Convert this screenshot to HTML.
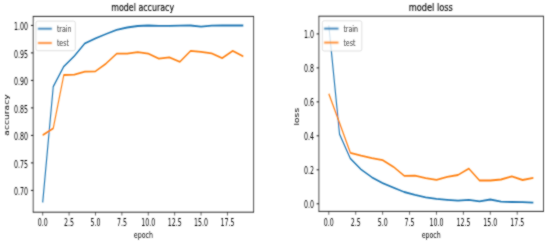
<!DOCTYPE html><html><head><meta charset="utf-8"><style>html,body{margin:0;padding:0;background:#fff;}svg{display:block;}text{font-family:"DejaVu Sans","Liberation Sans",sans-serif;fill:#000;}</style></head><body>
<svg width="550" height="244" viewBox="0 0 550 244">
<defs><filter id="b" x="0" y="0" width="550" height="244" filterUnits="userSpaceOnUse"><feConvolveMatrix order="3" kernelMatrix="1 2 1 2 12 2 1 2 1" divisor="24" edgeMode="duplicate"/></filter><filter id="s" x="0" y="0" width="550" height="244" filterUnits="userSpaceOnUse"><feConvolveMatrix order="3" kernelMatrix="1 2 1 2 12 2 1 2 1" divisor="24" edgeMode="duplicate"/></filter></defs>
<rect width="550" height="244" fill="#fff"/>
<g filter="url(#s)"><g transform="scale(0.63,1)">
<polyline points="67.78,202.50 84.53,86.60 101.29,66.40 118.05,56.00 134.81,43.30 151.56,38.40 168.32,34.00 185.08,29.90 201.83,27.50 218.59,26.00 235.35,25.50 252.11,25.80 268.86,25.80 285.62,25.70 302.38,25.50 319.13,26.60 335.89,25.70 352.65,25.50 369.41,25.50 386.16,25.50" fill="none" stroke="#1f77b4" stroke-width="1.8" stroke-linejoin="round" stroke-linecap="butt"/>
<polyline points="67.78,135.20 84.53,128.30 101.29,75.00 118.05,74.60 134.81,71.60 151.56,71.30 168.32,63.60 185.08,53.70 201.83,53.70 218.59,52.10 235.35,53.60 252.11,58.70 268.86,57.30 285.62,61.80 302.38,50.90 319.13,51.80 335.89,53.30 352.65,58.20 369.41,50.90 386.16,56.40" fill="none" stroke="#ff7f0e" stroke-width="1.8" stroke-linejoin="round" stroke-linecap="butt"/>
<polyline points="521.90,25.40 538.99,134.30 556.08,158.50 573.17,169.50 590.26,177.30 607.35,183.20 624.44,187.70 641.53,192.00 658.62,194.90 675.70,197.40 692.79,198.90 709.88,199.90 726.97,200.70 744.06,199.90 761.15,201.40 778.24,199.50 795.33,201.60 812.42,202.00 829.50,202.20 846.59,202.60" fill="none" stroke="#1f77b4" stroke-width="1.8" stroke-linejoin="round" stroke-linecap="butt"/>
<polyline points="521.90,93.70 538.99,123.00 556.08,152.80 573.17,155.70 590.26,158.10 607.35,160.10 624.44,166.80 641.53,175.80 658.62,175.70 675.70,178.10 692.79,179.80 709.88,176.80 726.97,175.00 744.06,168.60 761.15,180.50 778.24,180.50 795.33,179.50 812.42,176.40 829.50,180.00 846.59,177.80" fill="none" stroke="#ff7f0e" stroke-width="1.8" stroke-linejoin="round" stroke-linecap="butt"/>
</g></g>
<g filter="url(#b)">
<rect x="35.9" y="21.1" width="39.40" height="29.60" rx="1.8" fill="#fff" fill-opacity="0.8" stroke="#ccc" stroke-opacity="0.8" stroke-width="0.8"/>
<g filter="url(#s)">
<line x1="37.90" y1="28.70" x2="51.90" y2="28.70" stroke="#1f77b4" stroke-width="1.8"/>
<line x1="37.90" y1="43.00" x2="51.90" y2="43.00" stroke="#ff7f0e" stroke-width="1.8"/>
</g>
<text transform="translate(56.90,32.00) scale(0.66,1)" font-size="9.5" text-anchor="start">train</text>
<text transform="translate(56.90,46.00) scale(0.66,1)" font-size="9.5" text-anchor="start">test</text>
<line x1="32.80" y1="16.40" x2="254.00" y2="16.40" stroke="#000" stroke-width="0.85"/>
<line x1="32.80" y1="212.20" x2="254.00" y2="212.20" stroke="#000" stroke-width="0.85"/>
<line x1="33.20" y1="16.40" x2="33.20" y2="212.20" stroke="#000" stroke-width="0.7"/>
<line x1="253.60" y1="16.40" x2="253.60" y2="212.20" stroke="#000" stroke-width="0.7"/>
<line x1="42.70" y1="212.20" x2="42.70" y2="215.50" stroke="#000" stroke-width="0.6"/>
<text transform="translate(42.70,226.10) scale(0.635,1)" font-size="9.9" text-anchor="middle">0.0</text>
<line x1="69.09" y1="212.20" x2="69.09" y2="215.50" stroke="#000" stroke-width="0.6"/>
<text transform="translate(69.09,226.10) scale(0.635,1)" font-size="9.9" text-anchor="middle">2.5</text>
<line x1="95.49" y1="212.20" x2="95.49" y2="215.50" stroke="#000" stroke-width="0.6"/>
<text transform="translate(95.49,226.10) scale(0.635,1)" font-size="9.9" text-anchor="middle">5.0</text>
<line x1="121.88" y1="212.20" x2="121.88" y2="215.50" stroke="#000" stroke-width="0.6"/>
<text transform="translate(121.88,226.10) scale(0.635,1)" font-size="9.9" text-anchor="middle">7.5</text>
<line x1="148.27" y1="212.20" x2="148.27" y2="215.50" stroke="#000" stroke-width="0.6"/>
<text transform="translate(148.27,226.10) scale(0.635,1)" font-size="9.9" text-anchor="middle">10.0</text>
<line x1="174.66" y1="212.20" x2="174.66" y2="215.50" stroke="#000" stroke-width="0.6"/>
<text transform="translate(174.66,226.10) scale(0.635,1)" font-size="9.9" text-anchor="middle">12.5</text>
<line x1="201.06" y1="212.20" x2="201.06" y2="215.50" stroke="#000" stroke-width="0.6"/>
<text transform="translate(201.06,226.10) scale(0.635,1)" font-size="9.9" text-anchor="middle">15.0</text>
<line x1="227.45" y1="212.20" x2="227.45" y2="215.50" stroke="#000" stroke-width="0.6"/>
<text transform="translate(227.45,226.10) scale(0.635,1)" font-size="9.9" text-anchor="middle">17.5</text>
<line x1="30.90" y1="25.40" x2="33.20" y2="25.40" stroke="#000" stroke-width="0.9"/>
<text transform="translate(27.90,30.00) scale(0.635,1)" font-size="9.9" text-anchor="end">1.00</text>
<line x1="30.90" y1="52.90" x2="33.20" y2="52.90" stroke="#000" stroke-width="0.9"/>
<text transform="translate(27.90,57.50) scale(0.635,1)" font-size="9.9" text-anchor="end">0.95</text>
<line x1="30.90" y1="80.40" x2="33.20" y2="80.40" stroke="#000" stroke-width="0.9"/>
<text transform="translate(27.90,85.00) scale(0.635,1)" font-size="9.9" text-anchor="end">0.90</text>
<line x1="30.90" y1="107.90" x2="33.20" y2="107.90" stroke="#000" stroke-width="0.9"/>
<text transform="translate(27.90,112.50) scale(0.635,1)" font-size="9.9" text-anchor="end">0.85</text>
<line x1="30.90" y1="135.40" x2="33.20" y2="135.40" stroke="#000" stroke-width="0.9"/>
<text transform="translate(27.90,140.00) scale(0.635,1)" font-size="9.9" text-anchor="end">0.80</text>
<line x1="30.90" y1="162.90" x2="33.20" y2="162.90" stroke="#000" stroke-width="0.9"/>
<text transform="translate(27.90,167.50) scale(0.635,1)" font-size="9.9" text-anchor="end">0.75</text>
<line x1="30.90" y1="190.40" x2="33.20" y2="190.40" stroke="#000" stroke-width="0.9"/>
<text transform="translate(27.90,195.00) scale(0.635,1)" font-size="9.9" text-anchor="end">0.70</text>
<text transform="translate(142.70,11.40) scale(0.72,1)" font-size="11.0" text-anchor="middle" stroke="#000" stroke-width="0.15">model accuracy</text>
<text transform="translate(143.40,238.20) scale(0.66,1)" font-size="9.5" text-anchor="middle">epoch</text>
<text transform="translate(8.60,115.00) rotate(-90) scale(1,0.74)" font-size="9.2" text-anchor="middle">accuracy</text>
<rect x="322.3" y="20.8" width="39.50" height="30.20" rx="1.8" fill="#fff" fill-opacity="0.8" stroke="#ccc" stroke-opacity="0.8" stroke-width="0.8"/>
<g filter="url(#s)">
<line x1="324.10" y1="28.60" x2="338.50" y2="28.60" stroke="#1f77b4" stroke-width="1.8"/>
<line x1="324.10" y1="42.60" x2="338.50" y2="42.60" stroke="#ff7f0e" stroke-width="1.8"/>
</g>
<text transform="translate(343.40,32.00) scale(0.66,1)" font-size="9.5" text-anchor="start">train</text>
<text transform="translate(343.40,46.00) scale(0.66,1)" font-size="9.5" text-anchor="start">test</text>
<line x1="318.50" y1="16.20" x2="543.90" y2="16.20" stroke="#000" stroke-width="0.85"/>
<line x1="318.50" y1="211.40" x2="543.90" y2="211.40" stroke="#000" stroke-width="0.85"/>
<line x1="318.90" y1="16.20" x2="318.90" y2="211.40" stroke="#000" stroke-width="0.7"/>
<line x1="543.50" y1="16.20" x2="543.50" y2="211.40" stroke="#000" stroke-width="0.7"/>
<line x1="328.80" y1="211.40" x2="328.80" y2="214.70" stroke="#000" stroke-width="0.6"/>
<text transform="translate(328.80,226.10) scale(0.635,1)" font-size="9.9" text-anchor="middle">0.0</text>
<line x1="355.72" y1="211.40" x2="355.72" y2="214.70" stroke="#000" stroke-width="0.6"/>
<text transform="translate(355.72,226.10) scale(0.635,1)" font-size="9.9" text-anchor="middle">2.5</text>
<line x1="382.63" y1="211.40" x2="382.63" y2="214.70" stroke="#000" stroke-width="0.6"/>
<text transform="translate(382.63,226.10) scale(0.635,1)" font-size="9.9" text-anchor="middle">5.0</text>
<line x1="409.55" y1="211.40" x2="409.55" y2="214.70" stroke="#000" stroke-width="0.6"/>
<text transform="translate(409.55,226.10) scale(0.635,1)" font-size="9.9" text-anchor="middle">7.5</text>
<line x1="436.46" y1="211.40" x2="436.46" y2="214.70" stroke="#000" stroke-width="0.6"/>
<text transform="translate(436.46,226.10) scale(0.635,1)" font-size="9.9" text-anchor="middle">10.0</text>
<line x1="463.38" y1="211.40" x2="463.38" y2="214.70" stroke="#000" stroke-width="0.6"/>
<text transform="translate(463.38,226.10) scale(0.635,1)" font-size="9.9" text-anchor="middle">12.5</text>
<line x1="490.29" y1="211.40" x2="490.29" y2="214.70" stroke="#000" stroke-width="0.6"/>
<text transform="translate(490.29,226.10) scale(0.635,1)" font-size="9.9" text-anchor="middle">15.0</text>
<line x1="517.21" y1="211.40" x2="517.21" y2="214.70" stroke="#000" stroke-width="0.6"/>
<text transform="translate(517.21,226.10) scale(0.635,1)" font-size="9.9" text-anchor="middle">17.5</text>
<line x1="316.60" y1="203.80" x2="318.90" y2="203.80" stroke="#000" stroke-width="0.9"/>
<text transform="translate(314.00,207.60) scale(0.635,1)" font-size="9.9" text-anchor="end">0.0</text>
<line x1="316.60" y1="169.82" x2="318.90" y2="169.82" stroke="#000" stroke-width="0.9"/>
<text transform="translate(314.00,173.62) scale(0.635,1)" font-size="9.9" text-anchor="end">0.2</text>
<line x1="316.60" y1="135.84" x2="318.90" y2="135.84" stroke="#000" stroke-width="0.9"/>
<text transform="translate(314.00,139.64) scale(0.635,1)" font-size="9.9" text-anchor="end">0.4</text>
<line x1="316.60" y1="101.86" x2="318.90" y2="101.86" stroke="#000" stroke-width="0.9"/>
<text transform="translate(314.00,105.66) scale(0.635,1)" font-size="9.9" text-anchor="end">0.6</text>
<line x1="316.60" y1="67.88" x2="318.90" y2="67.88" stroke="#000" stroke-width="0.9"/>
<text transform="translate(314.00,71.68) scale(0.635,1)" font-size="9.9" text-anchor="end">0.8</text>
<line x1="316.60" y1="33.90" x2="318.90" y2="33.90" stroke="#000" stroke-width="0.9"/>
<text transform="translate(314.00,37.70) scale(0.635,1)" font-size="9.9" text-anchor="end">1.0</text>
<text transform="translate(430.80,11.30) scale(0.75,1)" font-size="11.0" text-anchor="middle" stroke="#000" stroke-width="0.15">model loss</text>
<text transform="translate(431.20,238.20) scale(0.66,1)" font-size="9.5" text-anchor="middle">epoch</text>
<text transform="translate(299.00,116.70) rotate(-90) scale(1,0.74)" font-size="9.2" text-anchor="middle">loss</text>
</g>
</svg></body></html>
